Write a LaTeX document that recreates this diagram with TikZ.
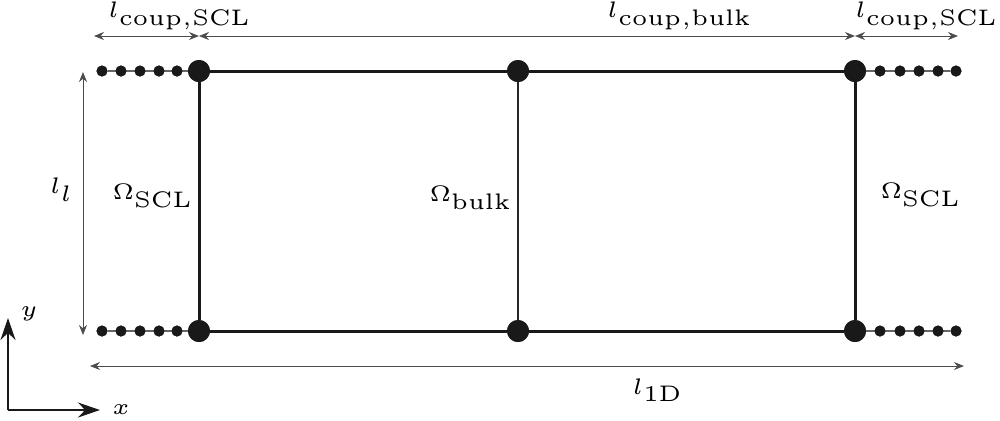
\documentclass[tikz,border=0pt]{standalone}
\usetikzlibrary{arrows.meta}
\begin{document}
\begin{tikzpicture}[x=0.5pt,y=-0.5pt,
  big/.style={circle,fill=black!90,inner sep=0pt,minimum size=11pt},
  small/.style={circle,fill=black!90,inner sep=0pt,minimum size=5.5pt},
  mainline/.style={line width=1.5pt,black!90},
  midline/.style={line width=0.9pt,black!85},
  chain/.style={line width=0.8pt,black!60},
  dim/.style={line width=0.5pt,black!70,{Stealth[length=5pt,width=4pt]}-{Stealth[length=5pt,width=4pt]}},
  axis/.style={line width=1pt,black!90,-{Stealth[length=11pt,width=7.5pt]}},
  lab/.style={font=\fontsize{5}{6}\selectfont,inner sep=0pt,scale=2.25}
]
\useasboundingbox (0,0) rectangle (1000,420);
% big nodes
\node[big] (tl) at (199,71) {};
\node[big] (tm) at (518,71) {};
\node[big] (tr) at (855,71) {};
\node[big] (bl) at (199,331) {};
\node[big] (bm) at (518,331) {};
\node[big] (br) at (855,331) {};
% small dots
\foreach \i/\x in {1/102,2/121,3/140,4/159,5/177}{
  \node[small] (tls\i) at (\x,71) {};
  \node[small] (bls\i) at (\x,331) {};
}
\foreach \i/\x in {1/880,2/900,3/919,4/938,5/956}{
  \node[small] (trs\i) at (\x,71) {};
  \node[small] (brs\i) at (\x,331) {};
}
% chains
\draw[chain] (tls1) -- (tl) (bls1) -- (bl) (tr) -- (trs5) (br) -- (brs5);
% main lines
\draw[mainline] (tl) -- (tm) -- (tr);
\draw[mainline] (bl) -- (bm) -- (br);
\draw[mainline] (tl) -- (bl);
\draw[mainline] (tr) -- (br);
\draw[midline] (tm) -- (bm);
% redraw nodes on top
\foreach \n in {tl,tm,tr,bl,bm,br}{\fill[black!90] (\n) circle (5.5pt);}
\foreach \i in {1,...,5}{\fill[black!90] (tls\i) circle (2.75pt) (bls\i) circle (2.75pt) (trs\i) circle (2.75pt) (brs\i) circle (2.75pt);}
% dimension coordinates
\coordinate (d0) at (94,36);
\coordinate (d1) at (199,36);
\coordinate (d2) at (855,36);
\coordinate (d3) at (958,36);
\draw[dim] (d0) -- (d1);
\draw[dim] (d1) -- (d2);
\draw[dim] (d2) -- (d3);
\coordinate (v0) at (83,72);
\coordinate (v1) at (83,335);
\draw[dim] (v0) -- (v1);
\coordinate (h0) at (90,366);
\coordinate (h1) at (964,366);
\draw[dim] (h0) -- (h1);
% axes
\coordinate (o) at (8,410);
\coordinate (ax) at (100,410);
\coordinate (ay) at (8,318);
\draw[axis] (o) -- (ax);
\draw[axis] (o) -- (ay);
\node[lab] (xl) at (121,410) {$x$};
\node[lab] (yl) at (29,314) {$y$};
% labels
\node[lab] (lc1) at (180,16) {$l_{\mathrm{coup,SCL}}$};
\node[lab] (lcb) at (680,16) {$l_{\mathrm{coup,bulk}}$};
\node[lab] (lc2) at (927,16) {$l_{\mathrm{coup,SCL}}$};
\node[lab] (ll) at (62,190) {$l_{l}$};
\node[lab] (os1) at (153,196) {$\Omega_{\mathrm{SCL}}$};
\node[lab] (ob) at (471,198) {$\Omega_{\mathrm{bulk}}$};
\node[lab] (os2) at (921,195) {$\Omega_{\mathrm{SCL}}$};
\node[lab] (l1d) at (658,390) {$l_{\mathrm{1D}}$};
\end{tikzpicture}
\end{document}
